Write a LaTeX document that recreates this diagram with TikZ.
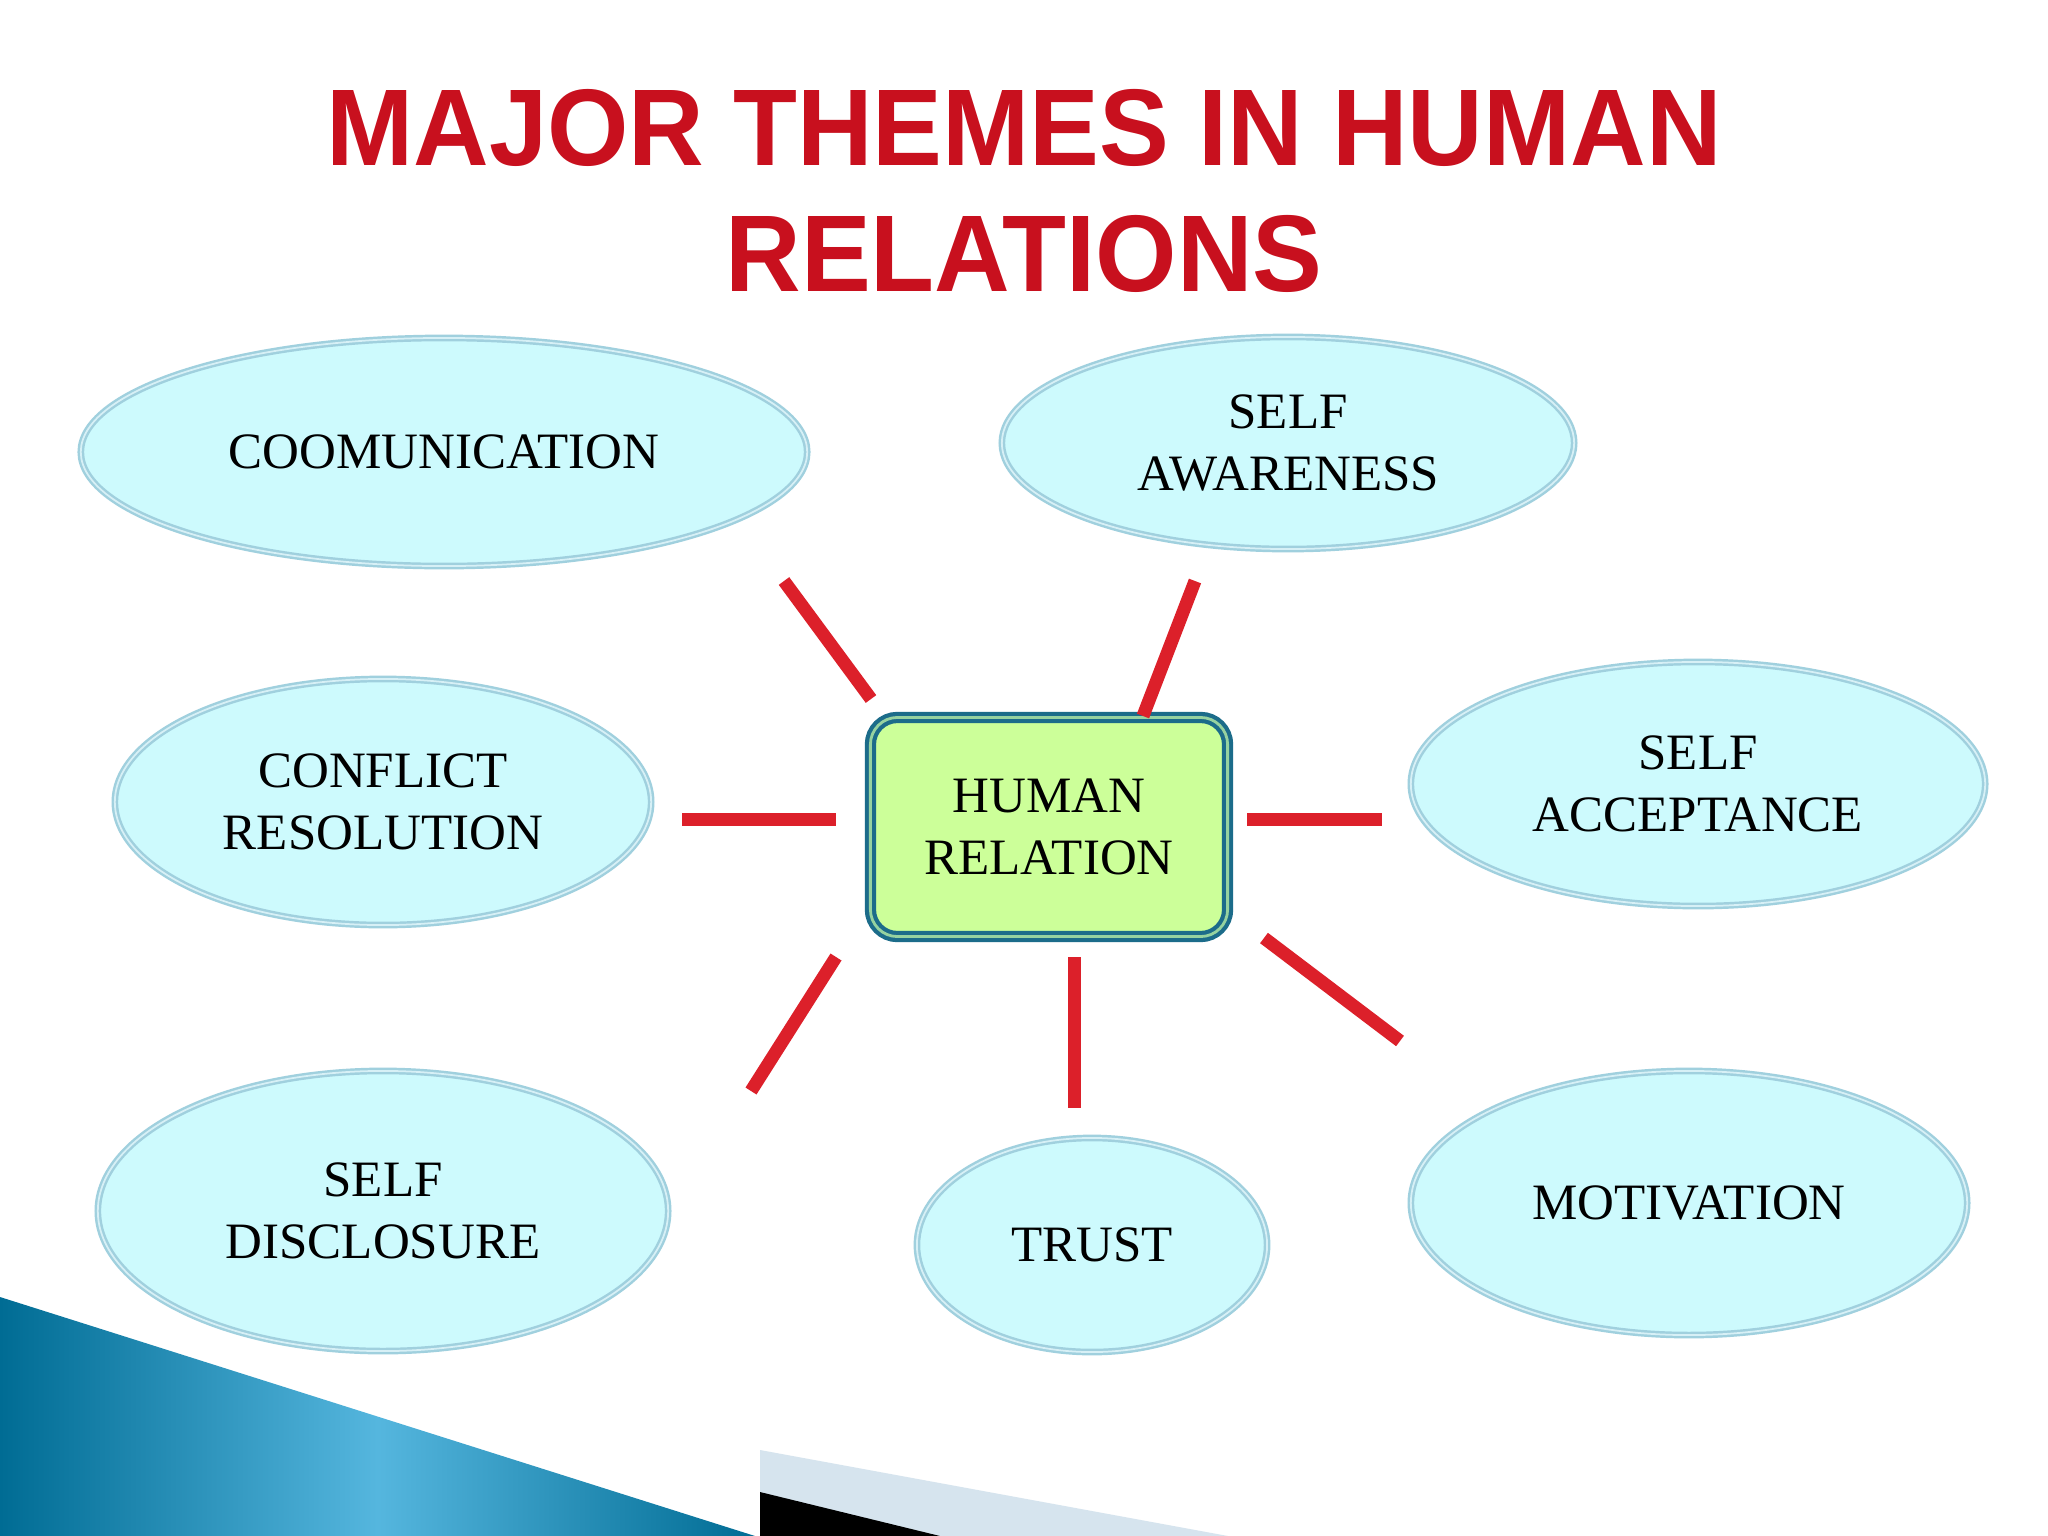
\documentclass[tikz,border=0pt]{standalone}
\usepackage{fontspec}
\setmainfont{Liberation Serif}
\newfontfamily\titlefont[FakeStretch=0.96]{Liberation Sans}
\usetikzlibrary{shapes.geometric}

\definecolor{titlered}{RGB}{200,16,30}
\definecolor{spokered}{RGB}{220,32,42}
\definecolor{themefill}{RGB}{205,250,253}
\definecolor{themeedge}{RGB}{160,208,222}
\definecolor{themeinner}{RGB}{215,240,246}
\definecolor{hubfill}{RGB}{204,255,153}
\definecolor{hubedge}{RGB}{28,108,138}
\definecolor{hubinner}{RGB}{150,210,160}
\definecolor{decodark}{RGB}{0,108,148}
\definecolor{decolight}{RGB}{85,182,222}
\definecolor{stripgray}{RGB}{214,228,238}

\begin{document}
\begin{tikzpicture}[x=0.01cm, y=-0.01cm,
		theme/.style={ellipse, draw=themeedge, double=themeinner, double distance=0.5pt, line width=0.7pt, fill=themefill, inner sep=0pt, align=center, font=\fontsize{14.5}{17.7}\selectfont},
		hub/.style={rectangle, rounded corners=0.27cm, draw=hubedge, double=hubinner, double distance=0.8pt, line width=1.2pt, fill=hubfill, inner sep=0pt, align=center, minimum width=3.57cm, minimum height=2.19cm, font=\fontsize{14.5}{17.7}\selectfont},
		spoke/.style={draw=spokered, line width=3.7pt}]
		\useasboundingbox (0, 0) rectangle (2048, 1536);
		\fill [white] (0, 0) rectangle (2048, 1536);
		% corner decoration
		\shade [left color=decodark, right color=decodark, middle color=decolight] (0, 1297) -- (755, 1536) -- (0, 1536) -- cycle;
		\fill [stripgray] (760, 1450) -- (1228, 1536) -- (760, 1536) -- cycle;
		\fill [black] (760, 1492) -- (940, 1536) -- (760, 1536) -- cycle;
		% title
		\node (title) at (1024, 191) [align=center, text=titlered, font=\titlefont\bfseries\fontsize{31}{35.6}\selectfont] {MAJOR THEMES IN HUMAN\\RELATIONS};
		% themes
		\node (comm) at (444, 452) [theme, minimum width=7.26cm, minimum height=2.28cm] {COOMUNICATION};
		\node (aware) at (1288, 443) [theme, minimum width=5.72cm, minimum height=2.12cm] {SELF\\AWARENESS};
		\node (confl) at (383, 802) [theme, minimum width=5.36cm, minimum height=2.46cm] {CONFLICT\\RESOLUTION};
		\node (accept) at (1698, 784) [theme, minimum width=5.74cm, minimum height=2.44cm] {SELF\\ACCEPTANCE};
		\node (discl) at (383, 1211) [theme, minimum width=5.70cm, minimum height=2.80cm] {SELF\\DISCLOSURE};
		\node (trust) at (1092, 1245) [theme, minimum width=3.50cm, minimum height=2.14cm] {TRUST};
		\node (motiv) at (1689, 1203) [theme, minimum width=5.56cm, minimum height=2.64cm] {MOTIVATION};
		\node (hub) at (1049, 827) [hub] {HUMAN\\RELATION};
		% spokes
		\coordinate (s1a) at (784, 581);  \coordinate (s1b) at (871, 699);
		\coordinate (s2a) at (1195, 581); \coordinate (s2b) at (1143, 716);
		\coordinate (s3a) at (682, 819);  \coordinate (s3b) at (836, 819);
		\coordinate (s4a) at (1247, 819); \coordinate (s4b) at (1382, 819);
		\coordinate (s5a) at (836, 957);  \coordinate (s5b) at (751, 1091);
		\coordinate (s6a) at (1074, 957); \coordinate (s6b) at (1074, 1108);
		\coordinate (s7a) at (1264, 938); \coordinate (s7b) at (1400, 1041);
		\foreach \s in {1, ..., 7}
			\draw [spoke] (s\s a) -- (s\s b);
	\end{tikzpicture}
\end{document}
